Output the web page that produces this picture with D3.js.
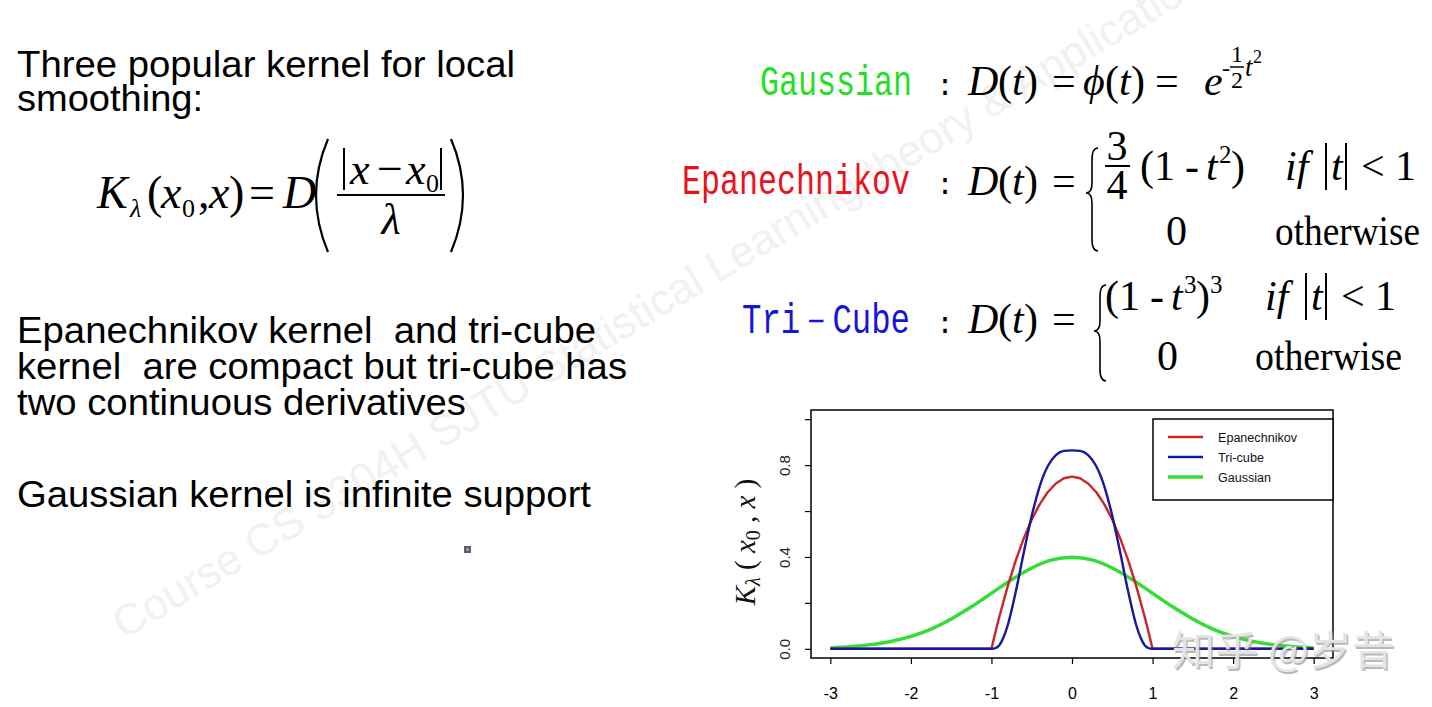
<!DOCTYPE html>
<html>
<head>
<meta charset="utf-8">
<script src="https://cdn.jsdelivr.net/npm/d3@7"></script>
<style>
  body { margin: 0; background: #fff; }
  svg { display: block; }
  text { white-space: pre; }
</style>
</head>
<body>
<svg id="slide" width="1432" height="707"></svg>
<script>
// values
const kernelT = [-3, -1, -0.95, -0.9, -0.8, -0.7, -0.6, -0.5, -0.4, -0.3, -0.2, -0.1, 0,
  0.1, 0.2, 0.3, 0.4, 0.5, 0.6, 0.7, 0.8, 0.9, 0.95, 1, 3];
const epanechnikovK = [0, 0, 0.073, 0.143, 0.270, 0.383, 0.480, 0.563, 0.630, 0.683, 0.720, 0.743, 0.750,
  0.743, 0.720, 0.683, 0.630, 0.563, 0.480, 0.383, 0.270, 0.143, 0.073, 0, 0];
const tricubeK = [0, 0, 0.003, 0.017, 0.100, 0.245, 0.417, 0.579, 0.709, 0.796, 0.844, 0.862, 0.864,
  0.862, 0.844, 0.796, 0.709, 0.579, 0.417, 0.245, 0.100, 0.017, 0.003, 0, 0];
const gaussT = [-3, -2.75, -2.5, -2.25, -2, -1.75, -1.5, -1.25, -1, -0.75, -0.5, -0.25, 0,
  0.25, 0.5, 0.75, 1, 1.25, 1.5, 1.75, 2, 2.25, 2.5, 2.75, 3];
const gaussianK = [0.004, 0.009, 0.018, 0.032, 0.054, 0.086, 0.130, 0.183, 0.242, 0.301, 0.352, 0.387, 0.399,
  0.387, 0.352, 0.301, 0.242, 0.183, 0.130, 0.086, 0.054, 0.032, 0.018, 0.009, 0.004];

const xTicks = [-3, -2, -1, 0, 1, 2, 3];
const yTicks = [0, 0.2, 0.4, 0.6, 0.8, 1.0];
const yTickLabels = ['0.0', '', '0.4', '', '0.8', ''];
const legendNames = ['Epanechnikov', 'Tri-cube', 'Gaussian'];
const legendColors = ['#cc2428', '#18189e', '#33dd33'];

const SANS = '"Liberation Sans", Arial, sans-serif';
const SERIF = '"Liberation Serif", "Times New Roman", serif';
const MONO = '"Liberation Mono", "DejaVu Sans Mono", monospace';

const svg = d3.select('#slide');

// faint course watermark
svg.append('text')
  .attr('transform', 'translate(124,640) rotate(-31)')
  .attr('font-family', SANS)
  .attr('font-size', 44)
  .attr('fill', '#f1f1f1')
  .text('Course CS 3304H SJTU Statistical Learning theory & Application');

// ---------- left column text ----------
function line(x, y, s, len) {
  svg.append('text')
    .attr('x', x).attr('y', y)
    .attr('font-family', SANS)
    .attr('font-size', 37)
    .attr('fill', '#000')
    .attr('textLength', len)
    .attr('lengthAdjust', 'spacingAndGlyphs')
    .text(s);
}
line(17, 77, 'Three popular kernel for local', 498);
line(17, 111, 'smoothing:', 186);
line(17, 343, 'Epanechnikov kernel  and tri-cube', 579);
line(17, 379, 'kernel  are compact but tri-cube has', 610);
line(17, 415, 'two continuous derivatives', 449);
line(17, 507, 'Gaussian kernel is infinite support', 574);

// little marker square
svg.append('rect').attr('x', 464).attr('y', 546).attr('width', 7).attr('height', 7).attr('fill', '#586472');
svg.append('rect').attr('x', 466.5).attr('y', 548.5).attr('width', 2).attr('height', 2).attr('fill', '#c6ccd4');

// ---------- math helpers ----------
function mt(x, y, s, opts) {
  opts = opts || {};
  const t = svg.append('text')
    .attr('x', x).attr('y', y)
    .attr('font-family', opts.font || SERIF)
    .attr('font-size', opts.size || 42)
    .attr('font-style', opts.italic ? 'italic' : 'normal')
    .attr('fill', opts.fill || '#000')
    .attr('text-anchor', opts.anchor || 'start')
    .text(s);
  if (opts.len) t.attr('textLength', opts.len).attr('lengthAdjust', 'spacingAndGlyphs');
  return t;
}
function seg(x1, y1, x2, y2, w) {
  svg.append('line').attr('x1', x1).attr('y1', y1).attr('x2', x2).attr('y2', y2)
    .attr('stroke', '#000').attr('stroke-width', w || 1.8);
}
function brace(x, y0, y1, ym) {
  const xm = x + 6, xr = x + 12;
  svg.append('path')
    .attr('d', `M${xr},${y0} Q${xm},${y0} ${xm},${y0 + 12} L${xm},${ym - 10} Q${xm},${ym} ${x},${ym}` +
      ` Q${xm},${ym} ${xm},${ym + 10} L${xm},${y1 - 12} Q${xm},${y1} ${xr},${y1}`)
    .attr('fill', 'none').attr('stroke', '#000').attr('stroke-width', 1.6);
}
function Dt(y) {
  mt(968, y, 'D', { italic: true });
  mt(998, y, '(');
  mt(1012, y, 't', { italic: true });
  mt(1024, y, ')');
  mt(1052, y, '=');
}

// ---------- K formula ----------
mt(97, 208, 'K', { italic: true, size: 46 });
mt(130, 217, 'λ', { italic: true, size: 26 });
mt(147, 208, '(', { size: 46 });
mt(161, 208, 'x', { italic: true, size: 46 });
mt(182, 217, '0', { size: 26 });
mt(198, 208, ',', { size: 46 });
mt(209, 208, 'x', { italic: true, size: 46 });
mt(229, 208, ')', { size: 46 });
mt(249, 208, '=', { size: 46 });
mt(283, 208, 'D', { italic: true, size: 46 });
svg.append('path').attr('d', 'M328,139 Q304,195 328,252').attr('fill', 'none').attr('stroke', '#000').attr('stroke-width', 2.2);
svg.append('path').attr('d', 'M451,139 Q475,195 451,252').attr('fill', 'none').attr('stroke', '#000').attr('stroke-width', 2.2);
seg(344, 148, 344, 190, 2);
mt(350, 184, 'x', { italic: true, size: 44 });
mt(390, 184, '−', { size: 46, anchor: 'middle' });
mt(406, 184, 'x', { italic: true, size: 44 });
mt(426, 192, '0', { size: 26 });
seg(441, 148, 441, 190, 2);
seg(337, 195, 445, 195, 2);
mt(391, 234, 'λ', { italic: true, size: 44, anchor: 'middle' });

// ---------- right formulas ----------
mt(760, 95, 'Gaussian', { font: MONO, size: 42, fill: '#22e022', len: 152 });
mt(682, 194, 'Epanechnikov', { font: MONO, size: 42, fill: '#ea121c', len: 228 });
mt(742, 333, 'Tri－Cube', { font: MONO, size: 42, fill: '#1414dc', len: 168 });
[95, 194, 333].forEach(y => mt(936, y, ':', { font: MONO, size: 30 }));

// Gaussian
Dt(95);
mt(1083, 95, 'ϕ', { italic: true });
mt(1105, 95, '(');
mt(1119, 95, 't', { italic: true });
mt(1131, 95, ')');
mt(1155, 95, '=');
mt(1204, 95, 'e', { italic: true });
mt(1222, 76, '-', { size: 24 });
mt(1237, 62, '1', { size: 24, anchor: 'middle' });
seg(1230, 67, 1244, 67, 1.5);
mt(1237, 88, '2', { size: 24, anchor: 'middle' });
mt(1245, 76, 't', { italic: true, size: 27 });
mt(1253, 63, '2', { size: 18 });

// Epanechnikov
Dt(195);
brace(1086, 148, 251, 193);
mt(1117, 160, '3', { anchor: 'middle' });
seg(1105, 166, 1130, 166, 2);
mt(1117, 199, '4', { anchor: 'middle' });
mt(1140, 180, '(');
mt(1154, 180, '1');
mt(1185, 180, '-');
mt(1206, 180, 't', { italic: true });
mt(1219, 163, '2', { size: 25 });
mt(1231, 180, ')');
mt(1285, 180, 'if', { italic: true });
seg(1326, 143, 1326, 190, 2);
mt(1331, 180, 't', { italic: true });
seg(1346, 143, 1346, 190, 2);
mt(1361, 180, '<');
mt(1395, 180, '1');
mt(1166, 245, '0');
mt(1275, 245, 'otherwise', { len: 145 });

// Tri-cube
Dt(333);
brace(1094, 285, 381, 331);
mt(1105, 310, '(');
mt(1119, 310, '1');
mt(1150, 310, '-');
mt(1171, 310, 't', { italic: true });
mt(1184, 293, '3', { size: 25 });
mt(1196, 310, ')');
mt(1210, 293, '3', { size: 25 });
mt(1265, 310, 'if', { italic: true });
seg(1306, 273, 1306, 320, 2);
mt(1311, 310, 't', { italic: true });
seg(1326, 273, 1326, 320, 2);
mt(1341, 310, '<');
mt(1375, 310, '1');
mt(1157, 370, '0');
mt(1255, 370, 'otherwise', { len: 147 });

// ---------- kernel plot ----------
const x = d3.scaleLinear().domain([-3.24, 3.24]).range([811, 1333]);
const y = d3.scaleLinear().domain([-0.04, 1.04]).range([658, 410]);

const plot = svg.append('g').attr('id', 'kernel-plot');

const xAxis = plot.append('g')
  .attr('transform', 'translate(0,658)')
  .call(d3.axisBottom(x).tickValues(xTicks).tickSize(6).tickFormat(d => String(d)));
xAxis.select('.domain').remove();
xAxis.selectAll('line').attr('stroke', '#000').attr('stroke-width', 1.2);
xAxis.selectAll('text')
  .attr('y', 41).attr('dy', 0)
  .attr('font-family', SANS).attr('font-size', 16).attr('fill', '#000');

const yAxis = plot.append('g')
  .attr('transform', 'translate(811,0)')
  .call(d3.axisLeft(y).tickValues(yTicks).tickSize(6).tickFormat((d, i) => yTickLabels[i]));
yAxis.select('.domain').remove();
yAxis.selectAll('line').attr('stroke', '#000').attr('stroke-width', 1.2);
yAxis.selectAll('text')
  .attr('transform', 'rotate(-90)')
  .attr('x', 0).attr('y', -21).attr('dy', 0)
  .attr('text-anchor', 'middle')
  .attr('font-family', SANS).attr('font-size', 15).attr('fill', '#222');

// y label K_lambda(x0, x)
const yl = plot.append('text')
  .attr('transform', 'translate(755,542) rotate(-90)')
  .attr('text-anchor', 'middle')
  .attr('font-family', SERIF).attr('font-size', 29).attr('fill', '#111');
yl.append('tspan').attr('font-style', 'italic').text('K');
yl.append('tspan').attr('font-style', 'italic').attr('font-size', 20).attr('dy', 5).text('λ');
yl.append('tspan').attr('dy', -5).text(' ( ');
yl.append('tspan').attr('font-style', 'italic').text('x');
yl.append('tspan').attr('font-size', 20).attr('dy', 5).text('0');
yl.append('tspan').attr('dy', -5).text(' , ');
yl.append('tspan').attr('font-style', 'italic').text('x');
yl.append('tspan').text(' )');

const series = [
  { t: gaussT, k: gaussianK, color: legendColors[2], width: 3.4, curve: d3.curveMonotoneX },
  { t: kernelT, k: epanechnikovK, color: legendColors[0], width: 2.4, curve: d3.curveLinear },
  { t: kernelT, k: tricubeK, color: legendColors[1], width: 2.4, curve: d3.curveMonotoneX }
];
series.forEach(s => {
  const gen = d3.line()
    .x((d, i) => x(s.t[i]))
    .y(d => y(d))
    .curve(s.curve);
  plot.append('path')
    .attr('d', gen(s.k))
    .attr('fill', 'none')
    .attr('stroke', s.color)
    .attr('stroke-width', s.width)
    .attr('stroke-linejoin', 'round');
});

// frame
plot.append('rect')
  .attr('x', 811).attr('y', 410).attr('width', 522).attr('height', 248)
  .attr('fill', 'none').attr('stroke', '#000').attr('stroke-width', 1.5);

// legend
const legend = plot.append('g').attr('transform', 'translate(1153,419)');
legend.append('rect').attr('width', 180).attr('height', 81)
  .attr('fill', '#fff').attr('stroke', '#000').attr('stroke-width', 1.5);
legendNames.forEach((name, i) => {
  legend.append('line')
    .attr('x1', 15).attr('x2', 50).attr('y1', 18 + i * 20).attr('y2', 18 + i * 20)
    .attr('stroke', legendColors[i]).attr('stroke-width', i === 2 ? 3.4 : 2.6);
  legend.append('text')
    .attr('x', 65).attr('y', 22.5 + i * 20)
    .attr('font-family', SANS).attr('font-size', 12.5).attr('fill', '#111')
    .attr('textLength', [79, 46, 53][i]).attr('lengthAdjust', 'spacingAndGlyphs')
    .text(name);
});

// zhihu watermark
const wm = '知乎 @岁昔';
svg.append('text')
  .attr('x', 1173.5).attr('y', 666.5)
  .attr('font-family', '"Noto Sans CJK SC", sans-serif').attr('font-size', 40)
  .attr('fill', '#8c8c8c').attr('opacity', 0.6)
  .attr('textLength', 223).attr('lengthAdjust', 'spacingAndGlyphs')
  .text(wm);
svg.append('text')
  .attr('x', 1172).attr('y', 665)
  .attr('font-family', '"Noto Sans CJK SC", sans-serif').attr('font-size', 40)
  .attr('fill', '#e4e4e4')
  .attr('textLength', 223).attr('lengthAdjust', 'spacingAndGlyphs')
  .text(wm);
</script>
</body>
</html>
